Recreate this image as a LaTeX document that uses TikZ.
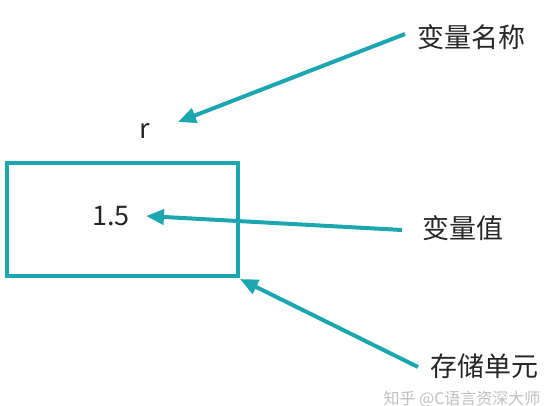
\documentclass[tikz,border=0pt]{standalone}
\usepackage{fontspec}
\setmainfont{Noto Sans CJK SC}
\usetikzlibrary{arrows.meta}
\definecolor{tealline}{RGB}{28,166,176}
\tikzset{
	pointer/.style={line width=2pt, color=tealline, -{Triangle[length=9pt,width=7.5pt]}},
	caption/.style={font=\fontsize{13.5}{16}\selectfont, text=black!85, inner sep=6pt},
	value/.style={font=\fontsize{13.5}{16}\selectfont, text=black!85, inner sep=1pt}
}

\begin{document}
\begin{tikzpicture}[x=0.5pt, y=-0.5pt]
		%%%%% START %%%%%
		\useasboundingbox (0, 0) rectangle (556, 406);
		
		\draw[line width=1.6pt, color=tealline] (7, 163) rectangle (238, 276);
		\node[value] (varname) at (145, 131) {r};
		\node[value] (varvalue) at (111, 216) {1.5};
		
		\coordinate (nametip) at (178, 122);
		\coordinate (valuetip) at (146, 216);
		\coordinate (celltip) at (240, 279);
		
		\node[caption, anchor=west] (namelbl) at (405, 37) {变量名称};
		\node[caption, anchor=west] (valuelbl) at (410, 228) {变量值};
		\node[caption, anchor=west] (celllbl) at (418, 366) {存储单元};
		
		\draw[pointer] ([yshift=1.5pt]namelbl.west) -- (nametip);
		\draw[pointer] ([xshift=-4pt,yshift=-1pt]valuelbl.west) -- (valuetip);
		\draw[pointer] ([yshift=-0.5pt]celllbl.west) -- (celltip);
		
		\node[font=\fontsize{8}{10}\selectfont, text=black!25, anchor=north] (mark) at (462, 384) {知乎 @C语言资深大师};
		%%%%% END %%%%%
	\end{tikzpicture}
\end{document}
